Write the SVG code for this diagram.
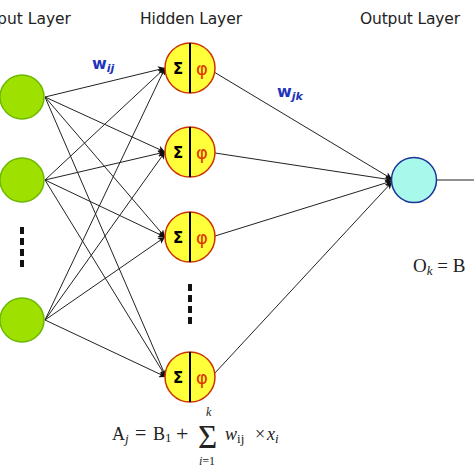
<svg xmlns="http://www.w3.org/2000/svg" width="474" height="474" viewBox="0 0 474 474">
<defs>
<marker id="arr" viewBox="0 0 10 10" refX="10" refY="5" markerWidth="9" markerHeight="7" markerUnits="userSpaceOnUse" orient="auto">
<path d="M0,0 L10,5 L0,10 L2.5,5 Z" fill="#111"/>
</marker>
</defs>
<style>
.title{font-family:"DejaVu Sans",Verdana,sans-serif;font-size:15.5px;fill:#222}
.in{fill:#9ee000;stroke:#6cb800;stroke-width:1.5}
.hid{fill:#ffff3a;stroke:#cc3300;stroke-width:1.5}
.out{fill:#a8f8ec;stroke:#1a3399;stroke-width:1.5}
.div{stroke:#000;stroke-width:2}
.sig{font-family:"DejaVu Sans",sans-serif;font-weight:bold;font-size:15px;fill:#000}
.phi{font-family:"DejaVu Sans",sans-serif;font-size:18px;fill:#dd3300}
.w{font-family:"DejaVu Sans",Verdana,sans-serif;font-weight:bold;fill:#2233bb}
.conn line{stroke:#222;stroke-width:1;marker-end:url(#arr)}
.math{font-family:"Liberation Serif","Times New Roman",serif;fill:#222}
.dots{stroke:#111;stroke-width:4;stroke-dasharray:7 4}
</style>

<text class="title" x="71" y="24" text-anchor="end">Input Layer</text>
<text class="title" x="140" y="24" textLength="102">Hidden Layer</text>
<text class="title" x="360" y="24" textLength="100">Output Layer</text>

<g id="connectors" class="conn">
<line x1="45" y1="97" x2="165" y2="68"/>
<line x1="45" y1="97" x2="165" y2="152"/>
<line x1="45" y1="97" x2="165" y2="237"/>
<line x1="45" y1="97" x2="166" y2="377"/>
<line x1="45" y1="180" x2="165" y2="68"/>
<line x1="45" y1="180" x2="165" y2="152"/>
<line x1="45" y1="180" x2="165" y2="237"/>
<line x1="45" y1="180" x2="166" y2="377"/>
<line x1="45" y1="320" x2="165" y2="68"/>
<line x1="45" y1="320" x2="165" y2="152"/>
<line x1="45" y1="320" x2="165" y2="237"/>
<line x1="45" y1="320" x2="166" y2="377"/>
<line x1="214" y1="72" x2="392" y2="179"/>
<line x1="215" y1="153" x2="392" y2="180"/>
<line x1="215" y1="236" x2="392" y2="181"/>
<line x1="214" y1="374" x2="392" y2="182"/>
<line x1="437" y1="180" x2="474" y2="180" style="marker-end:none"/>
</g>

<g id="input1"><circle class="in" cx="22" cy="97" r="22"/></g>
<g id="input2"><circle class="in" cx="22" cy="180" r="22"/></g>
<g id="input-dots"><line class="dots" x1="22" y1="227" x2="22" y2="268"/></g>
<g id="input3"><circle class="in" cx="22" cy="320" r="22"/></g>

<g id="hidden1">
<circle class="hid" cx="190" cy="68" r="25"/>
<line class="div" x1="190" y1="43" x2="190" y2="93"/>
<text class="sig" x="178" y="74" text-anchor="middle">Σ</text>
<text class="phi" x="202" y="75" text-anchor="middle">φ</text>
</g>
<g id="hidden2">
<circle class="hid" cx="190" cy="152" r="25"/>
<line class="div" x1="190" y1="127" x2="190" y2="177"/>
<text class="sig" x="178" y="158" text-anchor="middle">Σ</text>
<text class="phi" x="202" y="159" text-anchor="middle">φ</text>
</g>
<g id="hidden3">
<circle class="hid" cx="190" cy="237" r="25"/>
<line class="div" x1="190" y1="212" x2="190" y2="262"/>
<text class="sig" x="178" y="243" text-anchor="middle">Σ</text>
<text class="phi" x="202" y="244" text-anchor="middle">φ</text>
</g>
<g id="hidden-dots"><line class="dots" x1="190" y1="284" x2="190" y2="325"/></g>
<g id="hidden4">
<circle class="hid" cx="190" cy="377" r="25"/>
<line class="div" x1="190" y1="352" x2="190" y2="402"/>
<text class="sig" x="178" y="383" text-anchor="middle">Σ</text>
<text class="phi" x="202" y="384" text-anchor="middle">φ</text>
</g>

<g id="output1"><circle class="out" cx="414" cy="180" r="22.5"/></g>

<g id="labels">
<text class="w" x="92" y="69" font-size="16">w<tspan font-size="11" font-style="italic" dy="3">ij</tspan></text>
<text class="w" x="277" y="97" font-size="16">w<tspan font-size="11" font-style="italic" dy="3">jk</tspan></text>
<text class="math" x="413" y="272" font-size="19">O<tspan font-size="13" font-style="italic" dy="3">k</tspan><tspan dy="-3"> = B</tspan></text>
</g>

<g id="formula" class="math">
<text x="112" y="440" font-size="18">A<tspan font-size="13" font-style="italic" dy="3">j</tspan></text>
<text x="135" y="440" font-size="20">=</text>
<text x="153" y="440" font-size="18">B<tspan font-size="13" dy="2">1</tspan></text>
<text x="176" y="441" font-size="22">+</text>
<text x="198" y="448" font-size="33">Σ</text>
<text x="206" y="416" font-size="12" font-style="italic">k</text>
<text x="199" y="465" font-size="12"><tspan font-style="italic">i</tspan>=1</text>
<text x="225" y="440" font-size="18" font-style="italic">w<tspan font-size="13" font-style="normal" dy="3">ij</tspan></text>
<text x="255" y="440" font-size="18">×</text>
<text x="267" y="440" font-size="18" font-style="italic">x<tspan font-size="13" dy="3">i</tspan></text>
</g>
</svg>
